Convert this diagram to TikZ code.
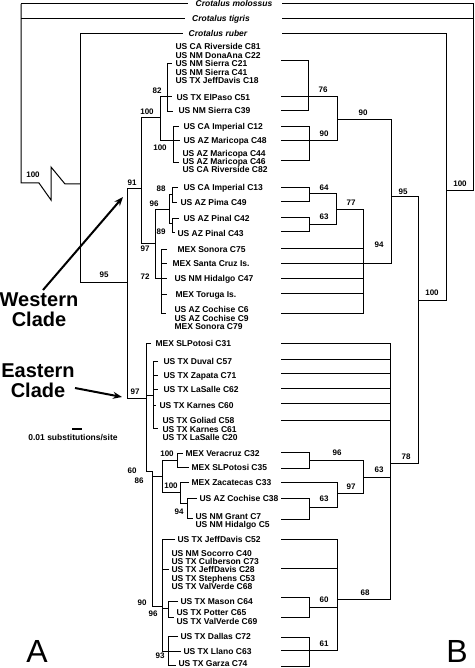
\documentclass[tikz,border=0pt]{standalone}
\usepackage{fontspec}
\setmainfont{Liberation Sans}
\usetikzlibrary{arrows.meta}
\tikzset{
	taxon/.style={anchor=base west, inner sep=0pt, font=\fontsize{8.5}{9}\selectfont\bfseries},
	species/.style={anchor=base, inner sep=0pt, font=\fontsize{8.5}{9}\selectfont\bfseries\itshape},
	boot/.style={inner sep=0pt, font=\fontsize{8}{8}\selectfont\bfseries},
	clade/.style={inner sep=0pt, align=center, font=\fontsize{20}{20}\selectfont\bfseries},
	panel/.style={anchor=base, inner sep=0pt, font=\fontsize{32}{32}\selectfont},
	pointer/.style={line width=2pt, -{Stealth[length=9pt,width=7pt]}}
}
\begin{document}
\begin{tikzpicture}[x=1pt,y=-1pt,line width=1pt]
	\useasboundingbox (0,0) rectangle (474,668);
	\node[species] (molossus) at (234,7) {Crotalus molossus};
	\node[species] (tigris) at (221,22) {Crotalus tigris};
	\node[species] (ruber) at (218,37) {Crotalus ruber};
	\node[taxon] (c81) at (175,50) {US CA Riverside C81};
	\node[taxon] (c22) at (175,59) {US NM DonaAna C22};
	\node[taxon] (c21) at (175,67) {US NM Sierra C21};
	\node[taxon] (c41) at (175,76) {US NM Sierra C41};
	\node[taxon] (c18) at (175,84) {US TX JeffDavis C18};
	\node[taxon] (c51) at (176,101) {US TX ElPaso C51};
	\node[taxon] (c39) at (178,114) {US NM Sierra C39};
	\node[taxon] (c12) at (183,130) {US CA Imperial C12};
	\node[taxon] (c48) at (183,144) {US AZ Maricopa C48};
	\node[taxon] (c44) at (182,157) {US AZ Maricopa C44};
	\node[taxon] (c46) at (182,165) {US AZ Maricopa C46};
	\node[taxon] (c82) at (182,173) {US CA Riverside C82};
	\node[taxon] (c13) at (183,190) {US CA Imperial C13};
	\node[taxon] (c49) at (180,206) {US AZ Pima C49};
	\node[taxon] (c42) at (183,221) {US AZ Pinal C42};
	\node[taxon] (c43) at (177,236) {US AZ Pinal C43};
	\node[taxon] (c75) at (177,252) {MEX Sonora C75};
	\node[taxon] (scruz) at (172,266) {MEX Santa Cruz Is.};
	\node[taxon] (c47) at (174,281) {US NM Hidalgo C47};
	\node[taxon] (toruga) at (175,297) {MEX Toruga Is.};
	\node[taxon] (c6) at (174,312) {US AZ Cochise C6};
	\node[taxon] (c9) at (174,321) {US AZ Cochise C9};
	\node[taxon] (c79) at (174,329) {MEX Sonora C79};
	\node[taxon] (c31) at (155,346) {MEX SLPotosi C31};
	\node[taxon] (c57) at (163,364) {US TX Duval C57};
	\node[taxon] (c71) at (163,378) {US TX Zapata C71};
	\node[taxon] (c62) at (163,392) {US TX LaSalle C62};
	\node[taxon] (c60) at (159,408) {US TX Karnes C60};
	\node[taxon] (c58) at (162,423) {US TX Goliad C58};
	\node[taxon] (c61) at (162,432) {US TX Karnes C61};
	\node[taxon] (c20) at (162,440) {US TX LaSalle C20};
	\node[taxon] (c32) at (185,456) {MEX Veracruz C32};
	\node[taxon] (c35) at (191,470) {MEX SLPotosi C35};
	\node[taxon] (c33) at (191,485) {MEX Zacatecas C33};
	\node[taxon] (c38) at (199,501) {US AZ Cochise C38};
	\node[taxon] (c7) at (195,519) {US NM Grant C7};
	\node[taxon] (c5) at (195,527) {US NM Hidalgo C5};
	\node[taxon] (c52) at (177,542) {US TX JeffDavis C52};
	\node[taxon] (c40) at (171,556) {US NM Socorro C40};
	\node[taxon] (c73) at (171,564) {US TX Culberson C73};
	\node[taxon] (c28) at (171,572) {US TX JeffDavis C28};
	\node[taxon] (c53) at (171,581) {US TX Stephens C53};
	\node[taxon] (c68) at (171,589) {US TX ValVerde C68};
	\node[taxon] (c64) at (180,604) {US TX Mason C64};
	\node[taxon] (c65) at (176,615) {US TX Potter C65};
	\node[taxon] (c69) at (176,624) {US TX ValVerde C69};
	\node[taxon] (c72) at (180,639) {US TX Dallas C72};
	\node[taxon] (c63) at (183,654) {US TX Llano C63};
	\node[taxon] (c74) at (178,666) {US TX Garza C74};
	\draw (21,4) -- (188,4);
	\draw (21,19) -- (185,19);
	\draw (21,4) -- (21,183) -- (39,183) -- (51,200) -- (51,167) -- (65,184) -- (80,184);
	\draw (80,34) -- (183,34);
	\draw (80,34) -- (80,282) -- (127,282);
	\draw (127,189) -- (127,398) -- (146,398);
	\draw (127,189) -- (141,189);
	\draw (141,118) -- (141,243) -- (155,243);
	\draw (141,118) -- (160,118);
	\draw (160,97) -- (160,141) -- (180,141);
	\draw (160,97) -- (172,97);
	\draw (172,64) -- (167,64) -- (167,112) -- (173,112);
	\draw (179,127) -- (173,127) -- (173,163) -- (179,163);
	\draw (155,209) -- (155,278) -- (161,278);
	\draw (155,209) -- (169,209);
	\draw (172,195) -- (169,195) -- (169,223) -- (172,223);
	\draw (178,188) -- (172,188) -- (172,203) -- (177,203);
	\draw (179,218) -- (172,218) -- (172,232) -- (175,232);
	\draw (167,249) -- (161,249) -- (161,313) -- (166,313);
	\draw (161,263) -- (167,263);
	\draw (161,278) -- (167,278);
	\draw (161,294) -- (167,294);
	\draw (151,343) -- (146,343) -- (146,471) -- (152,471);
	\draw (146,395) -- (153,395);
	\draw (158,361) -- (153,361) -- (153,428) -- (158,428);
	\draw (153,375) -- (158,375);
	\draw (153,389) -- (158,389);
	\draw (153,405) -- (156,405);
	\draw (152,471) -- (152,606) -- (162,606);
	\draw (152,476) -- (162,476);
	\draw (162,460) -- (162,492) -- (180,492);
	\draw (162,460) -- (177,460);
	\draw (183,453) -- (177,453) -- (177,467) -- (189,467);
	\draw (189,482) -- (180,482) -- (180,503) -- (187,503);
	\draw (197,498) -- (187,498) -- (187,518) -- (193,518);
	\draw (175,539) -- (162,539) -- (162,651) -- (168,651);
	\draw (162,569) -- (169,569);
	\draw (162,608) -- (168,608);
	\draw (178,601) -- (168,601) -- (168,617) -- (174,617);
	\draw (178,636) -- (168,636) -- (168,665) -- (176,665);
	\draw (168,651) -- (181,651);
	\draw (282,4) -- (473,4) -- (473,191) -- (446,191);
	\draw (282,19) -- (473,19);
	\draw (282,34) -- (446,34) -- (446,300) -- (418,300);
	\draw (281,61) -- (308,61) -- (308,111) -- (281,111);
	\draw (281,97) -- (337,97) -- (337,141) -- (281,141);
	\draw (281,127) -- (309,127) -- (309,161) -- (281,161);
	\draw (337,120) -- (391,120) -- (391,263) -- (363,263);
	\draw (391,197) -- (418,197) -- (418,463) -- (390,463);
	\draw (281,188) -- (309,188) -- (309,202) -- (281,202);
	\draw (281,217) -- (309,217) -- (309,231) -- (281,231);
	\draw (309,194) -- (336,194) -- (336,224) -- (309,224);
	\draw (336,209) -- (363,209) -- (363,313) -- (281,313);
	\draw (281,248) -- (363,248);
	\draw (281,263) -- (363,263);
	\draw (281,278) -- (363,278);
	\draw (281,293) -- (363,293);
	\draw (281,343) -- (390,343) -- (390,599) -- (337,599);
	\draw (281,359) -- (390,359);
	\draw (281,373) -- (390,373);
	\draw (281,388) -- (390,388);
	\draw (281,403) -- (390,403);
	\draw (281,420) -- (390,420);
	\draw (281,452) -- (309,452) -- (309,468) -- (281,468);
	\draw (309,460) -- (363,460) -- (363,493) -- (337,493);
	\draw (363,477) -- (390,477);
	\draw (281,482) -- (337,482) -- (337,507) -- (309,507);
	\draw (281,498) -- (309,498) -- (309,519) -- (281,519);
	\draw (281,539) -- (337,539) -- (337,650) -- (309,650);
	\draw (281,568) -- (337,568);
	\draw (281,597) -- (309,597) -- (309,617) -- (281,617);
	\draw (309,607) -- (337,607);
	\draw (281,637) -- (309,637) -- (309,666) -- (281,666);
	\draw (281,650) -- (309,650);
	\node[boot] (l100a) at (33,175) {100};
	\node[boot] (l95) at (104,275) {95};
	\node[boot] (l91) at (132,183) {91};
	\node[boot] (l100b) at (147,112) {100};
	\node[boot] (l82) at (157,91) {82};
	\node[boot] (l100c) at (160,148) {100};
	\node[boot] (l97a) at (145,249) {97};
	\node[boot] (l96a) at (154,204) {96};
	\node[boot] (l88) at (161,189) {88};
	\node[boot] (l89) at (161,232) {89};
	\node[boot] (l72) at (145,277) {72};
	\node[boot] (l97b) at (135,392) {97};
	\node[boot] (l60) at (132,471) {60};
	\node[boot] (l86) at (139,481) {86};
	\node[boot] (l100d) at (167,454) {100};
	\node[boot] (l100e) at (171,486) {100};
	\node[boot] (l94) at (179,512) {94};
	\node[boot] (l90) at (142,603) {90};
	\node[boot] (l96b) at (153,614) {96};
	\node[boot] (l93) at (160,656) {93};
	\node[boot] (r76) at (323,90) {76};
	\node[boot] (r90a) at (363,113) {90};
	\node[boot] (r90b) at (324,134) {90};
	\node[boot] (r64a) at (324,188) {64};
	\node[boot] (r63a) at (324,217) {63};
	\node[boot] (r77) at (351,203) {77};
	\node[boot] (r94) at (379,245) {94};
	\node[boot] (r95) at (403,192) {95};
	\node[boot] (r100a) at (460,184) {100};
	\node[boot] (r100b) at (432,293) {100};
	\node[boot] (r78) at (406,457) {78};
	\node[boot] (r96) at (337,453) {96};
	\node[boot] (r63b) at (379,470) {63};
	\node[boot] (r97) at (351,487) {97};
	\node[boot] (r63c) at (324,499) {63};
	\node[boot] (r68) at (365,593) {68};
	\node[boot] (r60) at (324,600) {60};
	\node[boot] (r61) at (324,644) {61};
	\node[clade] (western) at (39,310) {Western\\Clade};
	\node[clade] (eastern) at (38,381) {Eastern\\Clade};
	\coordinate (wtip) at (123,197);
	\coordinate (etip) at (122,397);
	\draw[pointer] (43,290) -- (wtip);
	\draw[pointer] (75,388) -- (etip);
	\draw[line width=1.5pt] (72,429) -- (82,429);
	\node[taxon, anchor=base] (scale) at (73,440) {0.01 substitutions/site};
	\node[panel] (pa) at (37,662) {A};
	\node[panel] (pb) at (457,662) {B};
\end{tikzpicture}
\end{document}
